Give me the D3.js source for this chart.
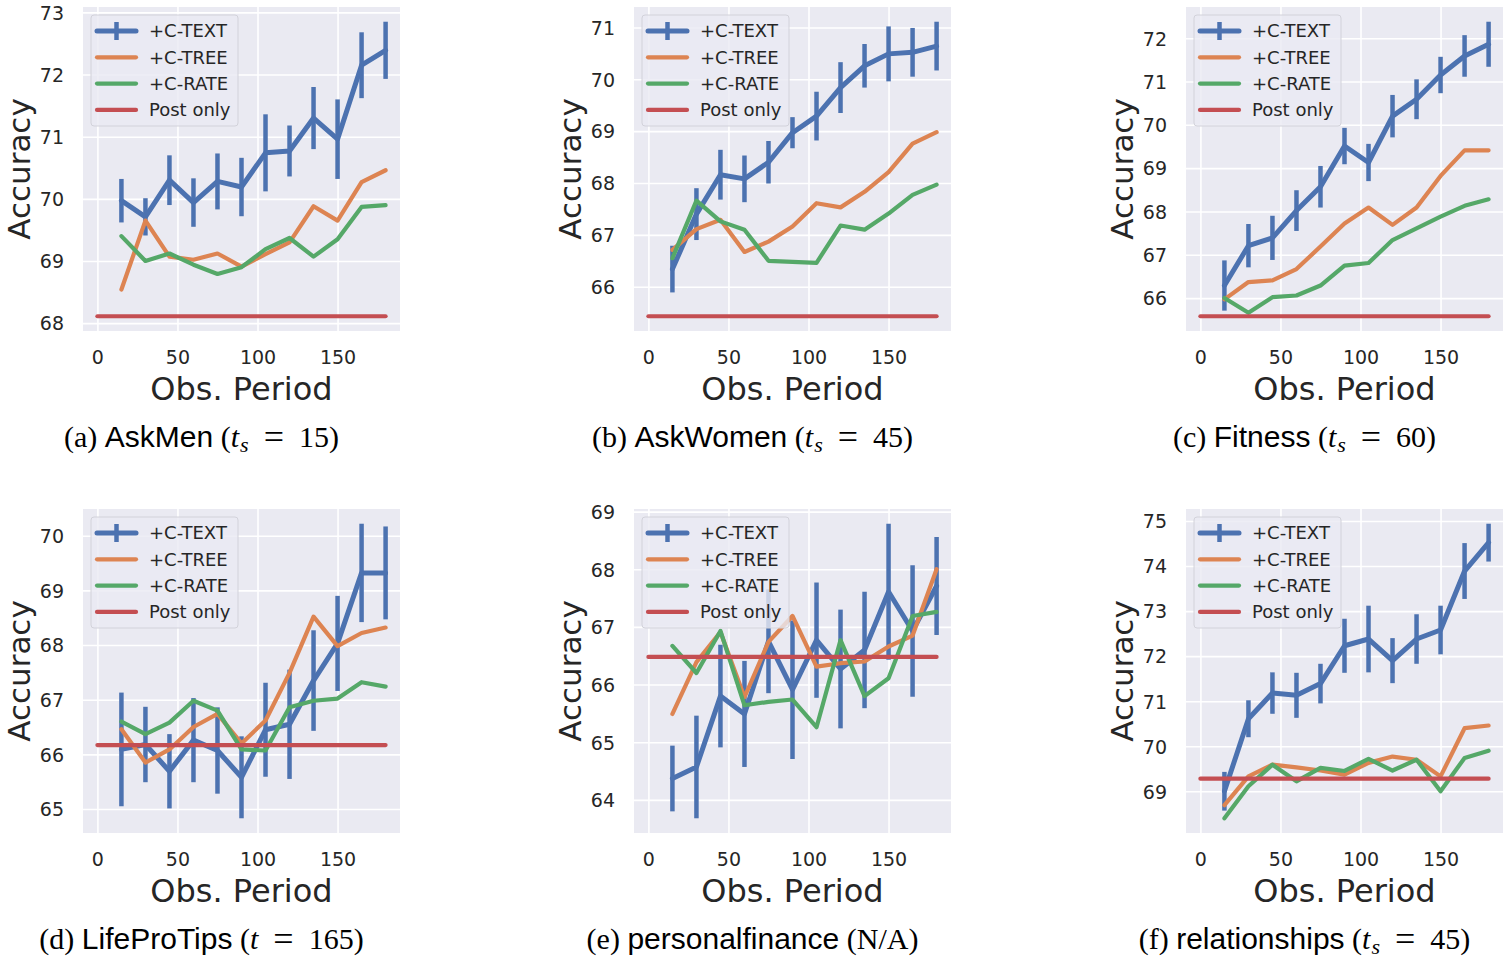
<!DOCTYPE html>
<html>
<head>
<meta charset="utf-8">
<script src="https://cdn.jsdelivr.net/npm/d3@7"></script>
<style>
body { margin: 0; background: #fff; }
</style>
</head>
<body>
<div id="fig"></div>
<script>
var W = 1508, H = 958;

// shared x values and labels
var obsPeriods = [15, 30, 45, 60, 75, 90, 105, 120, 135, 150, 165, 180];
var postPeriods = [0, 180];
var xTicks = [0, 50, 100, 150];
var seriesNames = ["+C-TEXT", "+C-TREE", "+C-RATE", "Post only"];
var seriesColors = ["#4c72b0", "#dd8452", "#55a868", "#c44e52"];

// (a) AskMen
var askMenText    = [69.97, 69.71, 70.30, 69.94, 70.28, 70.19, 70.74, 70.77, 71.30, 70.96, 72.15, 72.39];
var askMenTextErr = [0.35, 0.30, 0.40, 0.39, 0.45, 0.47, 0.62, 0.41, 0.50, 0.64, 0.53, 0.46];
var askMenTree    = [68.54, 69.65, 69.07, 69.02, 69.12, 68.91, 69.11, 69.30, 69.88, 69.65, 70.27, 70.46];
var askMenRate    = [69.40, 69.00, 69.12, 68.94, 68.79, 68.90, 69.19, 69.37, 69.07, 69.35, 69.87, 69.90];
var askMenPost    = 68.11;
var askMenYTicks  = [68, 69, 70, 71, 72, 73];

// (b) AskWomen
var askWomenText    = [66.34, 67.40, 68.16, 68.08, 68.40, 68.97, 69.29, 69.84, 70.26, 70.49, 70.52, 70.64];
var askWomenTextErr = [0.45, 0.50, 0.48, 0.45, 0.41, 0.30, 0.47, 0.49, 0.42, 0.53, 0.47, 0.47];
var askWomenTree    = [66.71, 67.11, 67.29, 66.67, 66.87, 67.16, 67.61, 67.53, 67.83, 68.21, 68.76, 68.98];
var askWomenRate    = [66.55, 67.66, 67.26, 67.10, 66.50, 66.48, 66.46, 67.18, 67.10, 67.41, 67.77, 67.97];
var askWomenPost    = 65.43;
var askWomenYTicks  = [66, 67, 68, 69, 70, 71];

// (c) Fitness
var fitnessText    = [66.29, 67.21, 67.39, 68.02, 68.57, 69.51, 69.13, 70.20, 70.59, 71.15, 71.59, 71.86];
var fitnessTextErr = [0.58, 0.50, 0.51, 0.47, 0.48, 0.42, 0.43, 0.49, 0.46, 0.42, 0.48, 0.52];
var fitnessTree    = [65.97, 66.37, 66.41, 66.67, 67.19, 67.72, 68.09, 67.69, 68.09, 68.82, 69.41, 69.41];
var fitnessRate    = [66.00, 65.66, 66.02, 66.06, 66.29, 66.75, 66.81, 67.34, 67.61, 67.88, 68.13, 68.28];
var fitnessPost    = 65.58;
var fitnessYTicks  = [66, 67, 68, 69, 70, 71, 72];

// (d) LifeProTips
var lifeProText    = [66.09, 66.18, 65.69, 66.26, 66.07, 65.58, 66.45, 66.55, 67.35, 68.03, 69.32, 69.32];
var lifeProTextErr = [1.04, 0.69, 0.68, 0.77, 0.79, 0.75, 0.86, 1.00, 0.92, 0.87, 0.90, 0.85];
var lifeProTree    = [66.46, 65.85, 66.09, 66.50, 66.74, 66.20, 66.62, 67.49, 68.52, 67.98, 68.22, 68.32];
var lifeProRate    = [66.60, 66.37, 66.58, 66.98, 66.80, 66.09, 66.07, 66.86, 66.98, 67.02, 67.32, 67.24];
var lifeProPost    = 66.17;
var lifeProYTicks  = [65, 66, 67, 68, 69, 70];

// (e) personalfinance
var financeText    = [64.37, 64.57, 65.80, 65.49, 66.75, 65.91, 66.77, 66.27, 66.60, 67.61, 66.93, 67.71];
var financeTextErr = [0.57, 0.89, 0.89, 0.92, 0.90, 1.20, 1.00, 1.03, 1.01, 1.18, 1.14, 0.85];
var financeTree    = [65.49, 66.39, 66.91, 65.78, 66.74, 67.19, 66.31, 66.37, 66.40, 66.66, 66.85, 68.00];
var financeRate    = [66.67, 66.20, 66.93, 65.64, 65.70, 65.74, 65.26, 66.77, 65.80, 66.11, 67.19, 67.26];
var financePost    = 66.48;
var financeYTicks  = [64, 65, 66, 67, 68, 69];

// (f) relationships
var relText    = [69.00, 70.61, 71.18, 71.13, 71.39, 72.23, 72.38, 71.90, 72.38, 72.58, 73.89, 74.52];
var relTextErr = [0.43, 0.41, 0.46, 0.50, 0.44, 0.60, 0.74, 0.50, 0.55, 0.54, 0.62, 0.42];
var relTree    = [68.69, 69.33, 69.59, 69.53, 69.46, 69.37, 69.63, 69.77, 69.70, 69.33, 70.40, 70.46];
var relRate    = [68.40, 69.11, 69.59, 69.22, 69.52, 69.45, 69.72, 69.46, 69.70, 69.00, 69.74, 69.90];
var relPost    = 69.28;
var relYTicks  = [69, 70, 71, 72, 73, 74, 75];

// captions
var captionLetters = ["(a)", "(b)", "(c)", "(d)", "(e)", "(f)"];
var subredditNames = ["AskMen", "AskWomen", "Fitness", "LifeProTips", "personalfinance", "relationships"];
var splitTimes     = ["15", "45", "60", "165", null, "45"];
var splitHasSub    = [true, true, true, false, false, true];

var panels = [
  { text: askMenText,   err: askMenTextErr,   tree: askMenTree,   rate: askMenRate,   post: askMenPost,   yTicks: askMenYTicks },
  { text: askWomenText, err: askWomenTextErr, tree: askWomenTree, rate: askWomenRate, post: askWomenPost, yTicks: askWomenYTicks },
  { text: fitnessText,  err: fitnessTextErr,  tree: fitnessTree,  rate: fitnessRate,  post: fitnessPost,  yTicks: fitnessYTicks },
  { text: lifeProText,  err: lifeProTextErr,  tree: lifeProTree,  rate: lifeProRate,  post: lifeProPost,  yTicks: lifeProYTicks },
  { text: financeText,  err: financeTextErr,  tree: financeTree,  rate: financeRate,  post: financePost,  yTicks: financeYTicks },
  { text: relText,      err: relTextErr,      tree: relTree,      rate: relRate,      post: relPost,      yTicks: relYTicks }
];

// layout of the plot areas
var colLeft = [83, 634, 1186];
var rowTop = [7, 509];
var pw = 317, ph = 324;
var ink = "#262626";
var sans = "'DejaVu Sans', sans-serif";
var serif = "'Liberation Serif', 'DejaVu Serif', serif";
var capSans = "'Liberation Sans', Arial, sans-serif";

var svg = d3.select("#fig").append("svg")
  .attr("width", W)
  .attr("height", H);

panels.forEach(function(p, i) {
  var left = colLeft[i % 3], top = rowTop[Math.floor(i / 3)];
  var g = svg.append("g");

  // matplotlib style 5% margins
  var xMin = 0, xMax = 180, xPad = (xMax - xMin) * 0.05;
  var x = d3.scaleLinear().domain([xMin - xPad, xMax + xPad]).range([left, left + pw]);

  var lows = p.text.map(function(v, k) { return v - p.err[k]; });
  var highs = p.text.map(function(v, k) { return v + p.err[k]; });
  var lo = d3.min(lows.concat(p.tree, p.rate, [p.post]));
  var hi = d3.max(highs.concat(p.tree, p.rate, [p.post]));
  var yPad = (hi - lo) * 0.05;
  var y = d3.scaleLinear().domain([lo - yPad, hi + yPad]).range([top + ph, top]);

  g.append("rect")
    .attr("x", left).attr("y", top)
    .attr("width", pw).attr("height", ph)
    .attr("fill", "#eaeaf2");

  // grid
  g.append("g")
    .attr("transform", "translate(0," + (top + ph) + ")")
    .call(d3.axisBottom(x).tickValues(xTicks).tickSize(-ph).tickFormat(""))
    .call(function(a) { a.select(".domain").remove(); })
    .selectAll("line").attr("stroke", "#fff").attr("stroke-width", 1.6);
  g.append("g")
    .attr("transform", "translate(" + left + ",0)")
    .call(d3.axisLeft(y).tickValues(p.yTicks).tickSize(-pw).tickFormat(""))
    .call(function(a) { a.select(".domain").remove(); })
    .selectAll("line").attr("stroke", "#fff").attr("stroke-width", 1.6);

  // tick labels
  var xa = g.append("g")
    .attr("transform", "translate(0," + (top + ph) + ")")
    .call(d3.axisBottom(x).tickValues(xTicks).tickSize(0).tickPadding(19.5))
    .call(function(a) { a.select(".domain").remove(); })
    .attr("font-family", sans).attr("font-size", 19);
  xa.selectAll("text").attr("fill", ink);

  var ya = g.append("g")
    .attr("transform", "translate(" + left + ",0)")
    .call(d3.axisLeft(y).tickValues(p.yTicks).tickSize(0).tickPadding(19).tickFormat(d3.format("d")))
    .call(function(a) { a.select(".domain").remove(); })
    .attr("font-family", sans).attr("font-size", 19);
  ya.selectAll("text").attr("fill", ink).attr("dy", "0.36em");

  // axis titles
  g.append("text")
    .attr("x", left + pw / 2).attr("y", top + ph + 69)
    .attr("text-anchor", "middle")
    .attr("font-family", sans).attr("font-size", 32).attr("fill", ink)
    .text("Obs. Period");
  g.append("text")
    .attr("transform", "translate(" + (left - 53) + "," + (top + ph / 2) + ") rotate(-90)")
    .attr("text-anchor", "middle")
    .attr("font-family", sans).attr("font-size", 31).attr("fill", ink)
    .text("Accuracy");

  var line = d3.line()
    .x(function(d) { return x(d[0]); })
    .y(function(d) { return y(d[1]); });

  // +C-TEXT with error bars
  var textPts = d3.zip(obsPeriods, p.text);
  g.append("path")
    .attr("d", line(textPts))
    .attr("fill", "none").attr("stroke", seriesColors[0])
    .attr("stroke-width", 5).attr("stroke-linejoin", "round").attr("stroke-linecap", "round");
  g.selectAll(".eb").data(textPts).enter().append("line")
    .attr("x1", function(d) { return x(d[0]); })
    .attr("x2", function(d) { return x(d[0]); })
    .attr("y1", function(d, k) { return y(d[1] - p.err[k]); })
    .attr("y2", function(d, k) { return y(d[1] + p.err[k]); })
    .attr("stroke", seriesColors[0]).attr("stroke-width", 4.5);

  [p.tree, p.rate].forEach(function(s, k) {
    g.append("path")
      .attr("d", line(d3.zip(obsPeriods, s)))
      .attr("fill", "none").attr("stroke", seriesColors[k + 1])
      .attr("stroke-width", 4.2).attr("stroke-linejoin", "round").attr("stroke-linecap", "round");
  });

  g.append("path")
    .attr("d", line(postPeriods.map(function(t) { return [t, p.post]; })))
    .attr("fill", "none").attr("stroke", seriesColors[3])
    .attr("stroke-width", 4.2).attr("stroke-linecap", "round");

  // legend
  var lx = left + 8, ly = top + 8;
  var lg = g.append("g").attr("transform", "translate(" + lx + "," + ly + ")");
  lg.append("rect")
    .attr("width", 147).attr("height", 111).attr("rx", 3)
    .attr("fill", "#eaeaf2").attr("fill-opacity", 0.8)
    .attr("stroke", "#d2d2da").attr("stroke-width", 1);
  seriesNames.forEach(function(name, k) {
    var cy = 16 + k * 26.3;
    lg.append("line")
      .attr("x1", 6).attr("x2", 45).attr("y1", cy).attr("y2", cy)
      .attr("stroke", seriesColors[k]).attr("stroke-width", k === 0 ? 5 : 4.2)
      .attr("stroke-linecap", "round");
    if (k === 0) {
      lg.append("line")
        .attr("x1", 25.5).attr("x2", 25.5).attr("y1", cy - 9).attr("y2", cy + 9)
        .attr("stroke", seriesColors[0]).attr("stroke-width", 4.5);
    }
    lg.append("text")
      .attr("x", 58).attr("y", cy).attr("dy", "0.36em")
      .attr("font-family", sans).attr("font-size", 18).attr("fill", ink)
      .text(name);
  });

  // caption
  var cap = g.append("text")
    .attr("x", left + pw / 2 - 40).attr("y", top + ph + 116)
    .attr("text-anchor", "middle")
    .attr("font-size", 30).attr("fill", "#000");
  cap.append("tspan").attr("font-family", serif).text(captionLetters[i] + " ");
  cap.append("tspan").attr("font-family", capSans).text(subredditNames[i]);
  if (splitTimes[i] === null) {
    cap.append("tspan").attr("font-family", serif).text(" (N/A)");
  } else {
    cap.append("tspan").attr("font-family", serif).text(" (");
    cap.append("tspan").attr("font-family", serif).attr("font-style", "italic").text("t");
    var dyBack = 0;
    if (splitHasSub[i]) {
      cap.append("tspan").attr("font-family", serif).attr("font-style", "italic")
        .attr("font-size", 22).attr("dx", 1).attr("dy", 5).text("s");
      dyBack = -5;
    }
    cap.append("tspan").attr("font-family", serif).attr("dy", dyBack).text("\u2002");
    cap.append("tspan").attr("font-family", serif).attr("font-size", 36).attr("dy", 2).text("=");
    cap.append("tspan").attr("font-family", serif).attr("dy", -2).text("\u2002" + splitTimes[i] + ")");
  }
});
</script>
</body>
</html>
